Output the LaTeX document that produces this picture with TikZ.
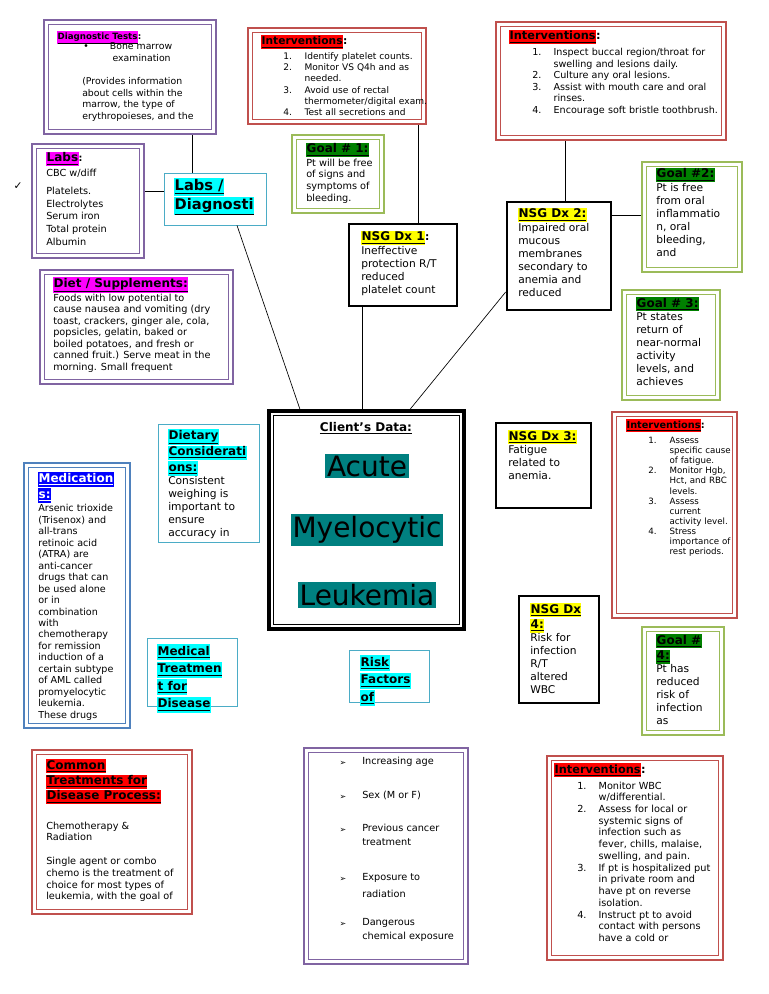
\documentclass[tikz,border=0pt]{standalone}
\usepackage{fontspec}
\setmainfont{DejaVu Sans}
\usetikzlibrary{fit}
\hyphenpenalty=10000 \exhyphenpenalty=10000
\definecolor{cred}{HTML}{C0504D}
\definecolor{cpur}{HTML}{8064A2}
\definecolor{cgrn}{HTML}{9BBB59}
\definecolor{cblu}{HTML}{4F81BD}
\definecolor{cltb}{HTML}{4BACC6}
\definecolor{hred}{HTML}{FF0000}
\definecolor{hmag}{HTML}{FF00FF}
\definecolor{hgrn}{HTML}{008000}
\definecolor{hyel}{HTML}{FFFF00}
\definecolor{hcya}{HTML}{00FFFF}
\definecolor{hblu}{HTML}{0000FF}
\definecolor{hteal}{HTML}{008080}
\newcommand\hl[2]{{\setlength{\fboxsep}{0.3pt}\colorbox{#1}{\strut\underline{#2}}}}
\newcommand\hlw[2]{{\setlength{\fboxsep}{0.3pt}\colorbox{#1}{\strut\textcolor{white}{\underline{#2}}}}}
\newcommand\hd[2]{{\fontsize{9}{10}\selectfont\bfseries\hl{#1}{#2}}}
\newcommand\itm[2]{\par\hangindent=16pt\hangafter=1\noindent\makebox[16pt][l]{#1}#2\par}
\newcommand\dbl[6]{%
  \node[draw=#6,line width=2.2pt,inner sep=0pt,fit={(#2,#3)(#4,#5)}] (#1) {};
  \node[draw=#6,line width=0.5pt,inner sep=-3.6pt,fit={(#2,#3)(#4,#5)}] {};}
\tikzset{txt/.style={anchor=north west,inner sep=0pt,align=left,font=\fontsize{7.5}{9}\selectfont},
 con/.style={line width=0.5pt,black}}
\begin{document}
\begin{tikzpicture}[x=0.75pt,y=-0.75pt]
\useasboundingbox (0,0) rectangle (768,994);
% Diagnostic tests
\dbl{diag}{44}{20}{216}{134}{cpur}
\node[txt] at (57,31) {\fontsize{6.5}{8}\selectfont\bfseries\hl{hmag}{Diagnostic Tests}:};
\node[txt,font=\fontsize{7}{9}\selectfont] at (83,42) {\makebox[20pt][l]{•}Bone marrow\\\hspace{22pt}examination};
\node[txt,font=\fontsize{7}{8.8}\selectfont] at (82,77) {(Provides information\\about cells within the\\marrow, the type of\\erythropoieses, and the};
% Interventions 1
\dbl{int1}{248}{28}{426}{124}{cred}
\node[txt] at (261,35) {\fontsize{8}{10}\selectfont\bfseries\hl{hred}{Interventions}:};
\node[txt,text width=124pt,font=\fontsize{6.8}{8.4}\selectfont] at (283,48) {\itm{1.}{Identify platelet counts.}\itm{2.}{Monitor VS Q4h and as needed.}\itm{3.}{Avoid use of rectal thermometer/digital exam.}\itm{4.}{Test all secretions and}};
% Interventions 2
\dbl{int2}{496}{22}{726}{140}{cred}
\node[txt] at (509,30) {\fontsize{8.5}{10}\selectfont\bfseries\hl{hred}{Interventions}:};
\node[txt,text width=140pt,font=\fontsize{7.2}{8.6}\selectfont] at (532,44) {\itm{1.}{Inspect buccal region/throat for swelling and lesions daily.}\itm{2.}{Culture any oral lesions.}\itm{3.}{Assist with mouth care and oral rinses.}\itm{4.}{Encourage soft bristle toothbrush.}};
% Goal 1
\dbl{g1}{292}{135}{384}{213}{cgrn}
\node[txt,font=\fontsize{7.3}{8.8}\selectfont] at (306,143) {\hd{hgrn}{Goal \# 1:}\\Pt will be free\\of signs and\\symptoms of\\bleeding.};
% Labs
\dbl{labs}{32}{144}{144}{258}{cpur}
\node[txt,font=\fontsize{7.3}{9.6}\selectfont] at (46,152) {\hd{hmag}{Labs}{\bfseries:}\\[1pt]CBC w/diff\\[4pt]Platelets.\\Electrolytes\\Serum iron\\Total protein\\Albumin};
\node[anchor=center,font=\fontsize{8}{9}\selectfont] (chk) at (18,186) {✓};
% Labs / Diagnostics
\node[draw=cltb,line width=0.6pt,inner sep=0pt,fit={(164,173)(266,225)}] (ld) {};
\node[txt,font=\fontsize{11}{12.5}\selectfont\bfseries] at (174,178) {\hl{hcya}{Labs /}\\\hl{hcya}{Diagnosti}};
% NSG Dx 1
\node[draw=black,line width=2pt,inner sep=0pt,fit={(349,224)(457,306)}] (dx1) {};
\node[txt,font=\fontsize{8}{9.8}\selectfont] at (361,231) {\hd{hyel}{NSG Dx 1}{\bfseries:}\\Ineffective\\protection R/T\\reduced\\platelet count};
% NSG Dx 2
\node[draw=black,line width=2pt,inner sep=0pt,fit={(507,202)(611,310)}] (dx2) {};
\node[txt,font=\fontsize{8}{9.8}\selectfont] at (518,208) {\hd{hyel}{NSG Dx 2:}\\Impaired oral\\mucous\\membranes\\secondary to\\anemia and\\reduced};
% Goal 2
\dbl{g2}{642}{162}{742}{272}{cgrn}
\node[txt,font=\fontsize{8}{9.8}\selectfont] at (656,168) {\hd{hgrn}{Goal \#2:}\\Pt is free\\from oral\\inflammatio\\n, oral\\bleeding,\\and};
% Goal 3
\dbl{g3}{622}{290}{720}{400}{cgrn}
\node[txt,font=\fontsize{8}{9.8}\selectfont] at (636,297) {\hd{hgrn}{Goal \# 3:}\\Pt states\\return of\\near-normal\\activity\\levels, and\\achieves};
% Diet
\dbl{diet}{40}{270}{233}{384}{cpur}
\node[txt,font=\fontsize{7.3}{8.6}\selectfont] at (53,277) {\hd{hmag}{Diet / Supplements:}\\Foods with low potential to\\cause nausea and vomiting (dry\\toast, crackers, ginger ale, cola,\\popsicles, gelatin, baked or\\boiled potatoes, and fresh or\\canned fruit.) Serve meat in the\\morning. Small frequent};
% Client's data
\node[draw=black,line width=2.4pt,inner sep=0pt,fit={(269,411)(464,629)}] (cd) {};
\node[draw=black,line width=0.6pt,inner sep=-3.6pt,fit={(269,411)(464,629)}] {};
\node[font=\fontsize{9}{10}\selectfont\bfseries] at (366,428) {\underline{Client’s Data:}};
\node[font=\fontsize{21}{24}\selectfont,fill=hteal,inner sep=1.5pt] at (367,466) {Acute};
\node[font=\fontsize{21}{24}\selectfont,fill=hteal,inner sep=1.5pt] at (367,530) {Myelocytic};
\node[font=\fontsize{21}{24}\selectfont,fill=hteal,inner sep=1.5pt] at (367,595) {Leukemia};
% Dietary considerations
\node[draw=cltb,line width=0.6pt,inner sep=0pt,fit={(158,424)(259,542)}] (dc) {};
\node[txt,font=\fontsize{8}{9.8}\selectfont] at (168,429) {\hd{hcya}{Dietary}\\\hd{hcya}{Considerati}\\\hd{hcya}{ons:}\\Consistent\\weighing is\\important to\\ensure\\accuracy in};
% NSG Dx 3
\node[draw=black,line width=2pt,inner sep=0pt,fit={(496,423)(591,508)}] (dx3) {};
\node[txt,font=\fontsize{8}{9.8}\selectfont] at (508,430) {\hd{hyel}{NSG Dx 3:}\\Fatigue\\related to\\anemia.};
% Interventions 3
\dbl{int3}{612}{412}{737}{618}{cred}
\node[txt] at (626,419) {\fontsize{7.3}{9}\selectfont\bfseries\hl{hred}{Interventions}:};
\node[txt,text width=62pt,font=\fontsize{6.5}{7.6}\selectfont] at (648,433) {\itm{1.}{Assess specific cause of fatigue.}\itm{2.}{Monitor Hgb, Hct, and RBC levels.}\itm{3.}{Assess current activity level.}\itm{4.}{Stress importance of rest periods.}};
% Medications
\dbl{med}{24}{463}{130}{728}{cblu}
\node[txt,font=\fontsize{7.2}{8.6}\selectfont] at (38,472) {{\fontsize{9}{10.5}\selectfont\bfseries\hlw{hblu}{Medication}}\\{\fontsize{9}{10.5}\selectfont\bfseries\hlw{hblu}{s:}}\\Arsenic trioxide\\(Trisenox) and\\all-trans\\retinoic acid\\(ATRA) are\\anti-cancer\\drugs that can\\be used alone\\or in\\combination\\with\\chemotherapy\\for remission\\induction of a\\certain subtype\\of AML called\\promyelocytic\\leukemia.\\These drugs};
% NSG Dx 4
\node[draw=black,line width=2pt,inner sep=0pt,fit={(519,596)(599,703)}] (dx4) {};
\node[txt,font=\fontsize{8}{9.8}\selectfont] at (530,603) {\hd{hyel}{NSG Dx}\\\hd{hyel}{4:}\\Risk for\\infection\\R/T\\altered\\WBC};
% Goal 4
\dbl{g4}{642}{627}{724}{735}{cgrn}
\node[txt,font=\fontsize{8}{9.8}\selectfont] at (656,634) {\hd{hgrn}{Goal \#}\\\hd{hgrn}{4:}\\Pt has\\reduced\\risk of\\infection\\as};
% Medical treatment
\node[draw=cltb,line width=0.6pt,inner sep=0pt,fit={(147,638)(237,706)}] (mt) {};
\node[txt,font=\fontsize{9}{11.5}\selectfont\bfseries] at (157,644) {\hl{hcya}{Medical}\\\hl{hcya}{Treatmen}\\\hl{hcya}{t for}\\\hl{hcya}{Disease}};
% Risk factors
\node[draw=cltb,line width=0.6pt,inner sep=0pt,fit={(349,650)(429,702)}] (rf) {};
\node[txt,font=\fontsize{9}{11.5}\selectfont\bfseries] at (360,655) {\hl{hcya}{Risk}\\\hl{hcya}{Factors}\\\hl{hcya}{of}};
% Common treatments
\dbl{ct}{32}{750}{192}{914}{cred}
\node[txt,font=\fontsize{7.3}{8.8}\selectfont] at (46,759) {\hd{hred}{Common}\\\hd{hred}{Treatments for}\\\hd{hred}{Disease Process:}\\[12pt]Chemotherapy \&\\Radiation\\[9pt]Single agent or combo\\chemo is the treatment of\\choice for most types of\\leukemia, with the goal of};
% Risk list
\dbl{rl}{304}{748}{468}{964}{cpur}
\tikzset{rk/.style={txt,font=\fontsize{7.3}{10.5}\selectfont}, ar/.style={anchor=center,font=\fontsize{6}{7}\selectfont}}
\node[ar] at (343,763) {➢}; \node[rk] at (362,757) {Increasing age};
\node[ar] at (343,797) {➢}; \node[rk] at (362,791) {Sex (M or F)};
\node[ar] at (343,830) {➢}; \node[rk] at (362,824) {Previous cancer\\treatment};
\node[ar] at (343,879) {➢}; \node[rk] at (362,873) {Exposure to\\[2pt]radiation};
\node[ar] at (343,924) {➢}; \node[rk] at (362,918) {Dangerous\\chemical exposure};
% Interventions 4
\dbl{int4}{547}{756}{723}{960}{cred}
\node[txt] at (554,763) {\fontsize{8.5}{10}\selectfont\bfseries\hl{hred}{Interventions}:};
\node[txt,text width=100pt,font=\fontsize{7.3}{8.8}\selectfont] at (577,777) {\itm{1.}{Monitor WBC w/differential.}\itm{2.}{Assess for local or systemic signs of infection such as fever, chills, malaise, swelling, and pain.}\itm{3.}{If pt is hospitalized put in private room and have pt on reverse isolation.}\itm{4.}{Instruct pt to avoid contact with persons have a cold or}};
% connectors
\draw[con] (192,0 |- diag.south) -- (192,0 |- ld.north);
\draw[con] (labs.east |- 0,191) -- (ld.west |- 0,191);
\draw[con] (237,0 |- ld.south) -- (300,0 |- cd.north);
\draw[con] (418,0 |- int1.south) -- (418,0 |- dx1.north);
\draw[con] (362,0 |- dx1.south) -- (362,0 |- cd.north);
\draw[con] (565,0 |- int2.south) -- (565,0 |- dx2.north);
\draw[con] (dx2.east |- 0,215) -- (g2.west |- 0,215);
\draw[con] (dx2.west |- 0,292) -- (410,0 |- cd.north);
\end{tikzpicture}
\end{document}
